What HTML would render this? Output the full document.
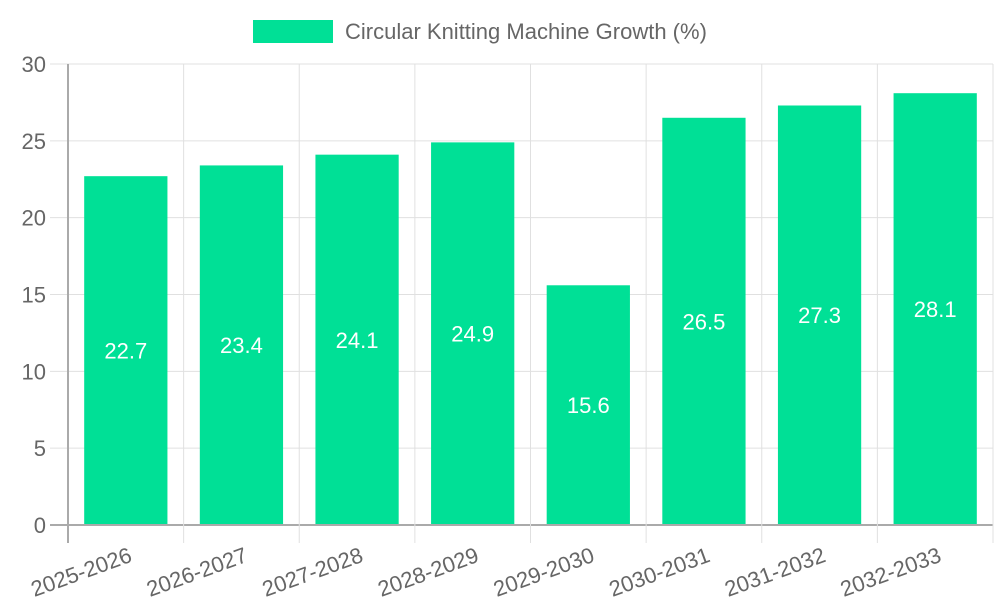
<!DOCTYPE html>
<html><head><meta charset="utf-8"><style>
body{margin:0;background:#fff;}
svg text{font-family:"Liberation Sans",sans-serif;}
</style></head><body>
<svg id="c" width="1000" height="600"></svg>
<script>
const categories=["2025-2026","2026-2027","2027-2028","2028-2029","2029-2030","2030-2031","2031-2032","2032-2033"];
const values=[22.7,23.4,24.1,24.9,15.6,26.5,27.3,28.1];
const yTicks=[0,5,10,15,20,25,30];
const seriesName="Circular Knitting Machine Growth (%)";
const NS="http://www.w3.org/2000/svg";
const svg=document.getElementById('c');
const L=68,R=993,T=64,B=525,yMax=30;
const cw=(R-L)/categories.length;
const y=v=>B-(v/yMax)*(B-T);
const x=i=>L+i*cw;
function mk(t,a,p){const e=document.createElementNS(NS,t);for(const k in a)e.setAttribute(k,a[k]);(p||svg).appendChild(e);return e;}
// legend
const lg=mk('g',{});


mk('rect',{x:253,y:20,width:80,height:23,fill:'#00e096'},lg);
const lt=mk('text',{x:345,y:39,'font-size':22,fill:'#666'},lg);lt.textContent=seriesName;
// grid
yTicks.forEach(v=>{
 const g=mk('line',{x1:50,x2:R,y1:y(v),y2:y(v),stroke:v===0?'#aaa':'#e0e0e0','stroke-width':v===0?2:1});
 
 
 const t=mk('text',{x:46,y:y(v)+8,'text-anchor':'end','font-size':22,fill:'#666'});
 t.textContent=v;
 
 
});
for(let i=0;i<=categories.length;i++){
 const g=mk('line',{x1:x(i),x2:x(i),y1:T,y2:B+18,stroke:i===0?'#aaa':'#e0e0e0','stroke-width':i===0?2:1});
 
 
}
// bars
const bw=cw*0.72;
values.forEach((v,i)=>{
 const cx=x(i)+cw/2;
 const r=mk('rect',{x:cx-bw/2,y:y(v),width:bw,height:B-y(v)-1,fill:'#00e096'});
 
 
 const t=mk('text',{x:cx,y:(y(v)+B)/2+8,'text-anchor':'middle','font-size':22,fill:'#fff'});
 t.textContent=v;
 
 
 const xl=mk('text',{x:cx+2,y:546,'text-anchor':'end','font-size':22,fill:'#666',transform:`rotate(-20 ${cx+2} 546)`});
 xl.setAttribute('dominant-baseline','hanging');
 xl.textContent=categories[i];
 
 
});
</script>
</body></html>
